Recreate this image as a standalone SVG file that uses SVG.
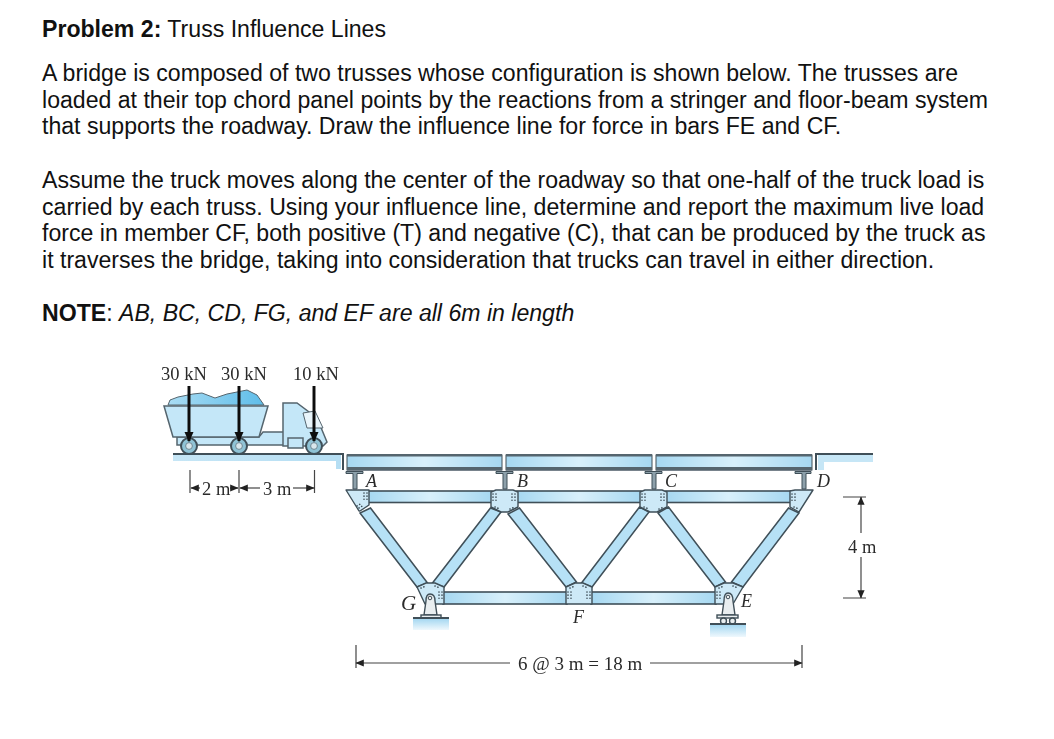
<svg xmlns="http://www.w3.org/2000/svg" width="1054" height="739" viewBox="0 0 1054 739">
<style>
.t{font-family:"Liberation Sans",Arial,sans-serif;font-size:23.1px;fill:#111}
.s{font-family:"Liberation Serif","Times New Roman",serif;font-size:18.5px;fill:#2b2b2b}
.l{font-family:"Liberation Serif","Times New Roman",serif;font-size:18px;font-style:italic;fill:#2b2b2b}
.m{fill:url(#h);stroke:#3f4f58;stroke-width:1.6}
.d{fill:#b6e1f6;stroke:#3f4f58;stroke-width:1.5}
.g{fill:#cde9f7;stroke:#3f4f58;stroke-width:1.4;stroke-linejoin:round}
.b{fill:none;stroke:#3f4f58;stroke-width:2}
.f{fill:#e9eef0;stroke:#3f4f58;stroke-width:1.4}
.r{fill:none;stroke:#3c4c55;stroke-width:1.6;stroke-linecap:round;stroke-dasharray:.1 3}
.dim{fill:none;stroke:#444;stroke-width:1.2}
.w{fill:#8fc3d6;stroke:#3f4f58;stroke-width:2}
.c{fill:#c4e7f8;stroke:#55656e;stroke-width:1.5}
</style>
<defs>
<filter id="soft" x="0" y="0" width="1" height="1"><feGaussianBlur stdDeviation="0.35"/></filter>
<linearGradient id="h"><stop offset="0" stop-color="#a6d8f1"/><stop offset=".5" stop-color="#d8f0fb"/><stop offset="1" stop-color="#a6d8f1"/></linearGradient>
<linearGradient id="v" x2="0" y2="1"><stop offset="0" stop-color="#9fd5f0"/><stop offset="1" stop-color="#eff8fd"/></linearGradient>
<linearGradient id="road" x2="1"><stop offset="0" stop-color="#c6e6f6"/><stop offset="1" stop-color="#b5def3"/></linearGradient>
<linearGradient id="load" x2="1"><stop offset="0" stop-color="#a9dcf3"/><stop offset="1" stop-color="#5fbde9"/></linearGradient>
<marker id="a" markerWidth="7" markerHeight="6" refX="6.5" refY="3" orient="auto-start-reverse"><path d="M0 0L7 3L0 6Z" fill="#222"/></marker>
<marker id="big" markerWidth="4" markerHeight="4" refX="3" refY="2" orient="auto"><path d="M0 .5L3.400 2L0 3.500Z" fill="#111"/></marker>
<g id="wheel"><circle r="8" class="w"/><circle r="3.400" fill="#d8e6ec" stroke="#6d8794"/></g>
<g id="rivV"><path class="r" d="M0 0V9"/><path class="r" d="M3 0V9"/></g>
</defs>

<g id="text">
<text class="t" x="42" y="37"><tspan font-weight="700">Problem 2:</tspan> Truss Influence Lines</text>
<text class="t" x="42" y="81">A bridge is composed of two trusses whose configuration is shown below. The trusses are</text>
<text class="t" x="42" y="108">loaded at their top chord panel points by the reactions from a stringer and floor-beam system</text>
<text class="t" x="42" y="134">that supports the roadway. Draw the influence line for force in bars FE and CF.</text>
<text class="t" x="42" y="188">Assume the truck moves along the center of the roadway so that one-half of the truck load is</text>
<text class="t" x="42" y="215">carried by each truss. Using your influence line, determine and report the maximum live load</text>
<text class="t" x="42" y="241">force in member CF, both positive (T) and negative (C), that can be produced by the truck as</text>
<text class="t" x="42" y="268">it traverses the bridge, taking into consideration that trucks can travel in either direction.</text>
<text class="t" x="42" y="321"><tspan font-weight="700">NOTE</tspan>: <tspan font-style="italic">AB, BC, CD, FG, and EF are all 6m in length</tspan></text>
</g>

<g id="figure" filter="url(#soft)">
<g id="roads">
<path d="M173 455H341V469H336V461H173Z" fill="url(#road)"/>
<path class="b" d="M173 454H343V470"/>
<path d="M818 455H873V462H824V470H818Z" fill="#c6e6f6"/>
<path class="b" d="M873 454H816V470"/>
</g>

<g id="truck">
<path d="M168 405L170 400L178 397L193 394L202 393L215 398L227 394L247 390L257 395L264 405Z" fill="url(#load)" stroke="#55656e"/>
<path class="c" d="M177 437H259L263 432H286V445H177Z"/>
<path class="c" d="M164 406H268L259 437H173Z"/>
<path class="c" d="M283 403H297L317 418L327 442L323 446H283Z"/>
<path d="M303 413L315 411L323 428H307Z" fill="#e9f5fb" stroke="#55656e"/>
<rect class="c" x="288" y="438" width="15" height="10"/>
<use href="#wheel" x="189" y="446"/><use href="#wheel" x="239" y="446"/><use href="#wheel" x="314" y="446"/>
<g fill="none" stroke="#111" stroke-width="3" marker-end="url(#big)">
<path d="M189 386V441"/><path d="M239 386V441"/><path d="M314 386V441"/>
</g>
</g>

<g id="loads">
<text class="s" x="161" y="379.500">30 kN</text>
<text class="s" x="221" y="379.500">30 kN</text>
<text class="s" x="293" y="379.500">10 kN</text>
</g>

<g id="connectors">
<path class="d" d="M360 513L417 587L427.500 583L370.500 508Z"/>
<path class="d" d="M432.500 583L444 587L501 512L490.500 508Z"/>
<path class="d" d="M508 514L566 587L576.500 582L519.500 508Z"/>
<path class="d" d="M581.500 583L592 587L649 512L639.500 507Z"/>
<path class="d" d="M658 513L715 587L725.500 582L668.500 507Z"/>
<path class="d" d="M731.500 582L743 587L799 513L788.500 508Z"/>
<rect class="m" x="368" y="491" width="124" height="11.500"/>
<rect class="m" x="517" y="491" width="124" height="11.500"/>
<rect class="m" x="666" y="491" width="125" height="11.500"/>
<rect class="m" x="443" y="592" width="124" height="12"/>
<rect class="m" x="591" y="592" width="125" height="12"/>
</g>

<g id="deck">
<g id="stringers" fill="#8da0aa" stroke="#3f4f58">
<path d="M346 471.500H363V473.500H357V489H353V473.500H346Z"/>
<path d="M496 471.500H513V473.500H507V489H503V473.500H496Z"/>
<path d="M645 471.500H662V473.500H656V489H652V473.500H645Z"/>
<path d="M795 471.500H811V473.500H806V489H802V473.500H795Z"/>
</g>
<g fill="url(#h)" stroke="#3f4f58">
<rect x="347" y="455" width="155" height="15"/>
<rect x="506" y="455" width="146" height="15"/>
<rect x="656" y="455" width="156" height="15"/>
</g>
<g fill="#55656e">
<rect x="347" y="454" width="155" height="2.500"/><rect x="506" y="454" width="146" height="2.500"/><rect x="656" y="454" width="156" height="2.500"/>
<rect x="347" y="467" width="155" height="3.500"/><rect x="506" y="467" width="146" height="3.500"/><rect x="656" y="467" width="156" height="3.500"/>
</g>
</g>

<g id="node-A">
<path class="g" d="M346 490H369V505L360 511H359Z"/>
<use href="#rivV" x="364" y="493"/><path class="r" d="M359 508L364 505M357 506L362 503"/>
<text class="l" x="366" y="487">A</text>
</g>
<g id="node-B">
<path class="g" d="M496 490H513L518 492V507L508 512H501L491 507V492Z"/>
<use href="#rivV" x="493" y="494"/><use href="#rivV" x="512" y="494"/><path class="r" d="M495 507L500 509M510 509L515 507"/>
<text class="l" x="517" y="487">B</text>
</g>
<g id="node-C">
<path class="g" d="M645 490H662L667 492V507L657 512H650L640 507V492Z"/>
<use href="#rivV" x="642" y="494"/><use href="#rivV" x="661" y="494"/><path class="r" d="M644 507L649 509M659 509L664 507"/>
<text class="l" x="665" y="487">C</text>
</g>
<g id="node-D">
<path class="g" d="M790 491L795 490H813L799 512L790 507Z"/>
<use href="#rivV" x="792" y="494"/><path class="r" d="M794 507L799 509"/>
<text class="l" x="817" y="487">D</text>
</g>
<g id="node-G">
<path class="g" d="M417 587L426 583H435L444 587V604H425Z"/>
<path class="r" d="M421 588L426 586M435 586L440 588"/><use href="#rivV" x="439" y="592"/>
<path class="f" d="M424 615L426 601Q426 594 430 594Q435 594 435 601L437 615Z"/>
<circle cx="430" cy="598" r="1.800" fill="#eee" stroke="#3f4f58"/>
<rect class="f" x="421" y="615" width="20" height="3"/>
<rect x="413" y="618" width="36" height="12" fill="url(#v)"/><path class="b" d="M413 618H449"/>
<text class="l" x="401" y="610" style="font-size:21px">G</text>
</g>
<g id="node-F">
<path class="g" d="M566 587L575 583H583L592 587V604H566Z"/>
<path class="r" d="M570 588L575 586M583 586L588 588"/><use href="#rivV" x="568" y="592"/><use href="#rivV" x="587" y="592"/>
<text class="l" x="573" y="623">F</text>
</g>
<g id="node-E">
<path class="g" d="M715 587L724 583H733L743 587L733 604H715Z"/>
<path class="r" d="M719 588L724 586M733 586L738 588"/><use href="#rivV" x="717" y="592"/>
<path class="f" d="M722 615L724 601Q724 593 728 593Q733 593 733 601L735 615Z"/>
<circle cx="728" cy="597" r="1.800" fill="#eee" stroke="#3f4f58"/>
<rect class="f" x="717" y="615" width="21" height="3"/>
<circle cx="723.500" cy="621" r="3" class="f"/><circle cx="732.500" cy="621" r="3" class="f"/>
<rect x="710" y="624" width="36" height="13" fill="url(#v)"/><path class="b" d="M710 624H746"/>
<text class="l" x="741" y="607">E</text>
</g>

<g id="dimensions">
<path class="dim" d="M190 470V493M239 470V493M314.500 470V493M843 497H866M843 598H866M356 645V668M802 645V668"/>
<path class="dim" d="M191 488H200" marker-start="url(#a)"/>
<path class="dim" d="M230 488H238" marker-end="url(#a)"/>
<path class="dim" d="M240 488H260" marker-start="url(#a)"/>
<path class="dim" d="M293 488H314" marker-end="url(#a)"/>
<path class="dim" d="M861 497V533" marker-start="url(#a)"/>
<path class="dim" d="M861 557V598" marker-end="url(#a)"/>
<path class="dim" d="M356 663H510" marker-start="url(#a)"/>
<path class="dim" d="M650 663H802" marker-end="url(#a)"/>
<text class="s" x="202" y="495">2 m</text>
<text class="s" x="263" y="495">3 m</text>
<text class="s" x="848" y="553">4 m</text>
<text class="s" x="518" y="670" style="font-size:19px">6 @ 3 m = 18 m</text>
</g>
</g>
</svg>
